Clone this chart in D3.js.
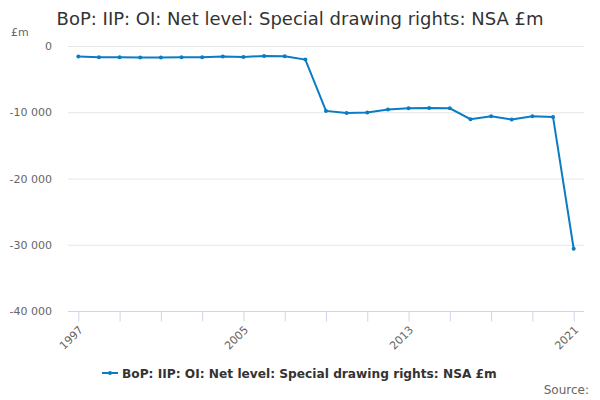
<!DOCTYPE html>
<html>
<head>
<meta charset="utf-8">
<script src="https://cdn.jsdelivr.net/npm/d3@7/dist/d3.min.js"></script>
<style>
 body { margin: 0; background: #fff; }
 text { font-family: "DejaVu Sans", sans-serif; }
</style>
</head>
<body>
<script>
var years = [1997, 1998, 1999, 2000, 2001, 2002, 2003, 2004, 2005, 2006, 2007, 2008,
             2009, 2010, 2011, 2012, 2013, 2014, 2015, 2016, 2017, 2018, 2019, 2020, 2021];
var values = [-1600, -1700, -1700, -1750, -1750, -1700, -1700, -1600, -1650, -1500, -1550, -2050,
              -9800, -10100, -10050, -9600, -9400, -9350, -9400, -11050, -10600, -11100, -10600, -10700, -30600];
var yTicks = [0, -10000, -20000, -30000, -40000];
var xLabels = [1997, 2005, 2013, 2021];
var seriesName = "BoP: IIP: OI: Net level: Special drawing rights: NSA £m";

var blue = "#0a7cc4";

var svg = d3.select("body").append("svg")
    .attr("width", 600)
    .attr("height", 400);

var x = d3.scalePoint()
    .domain(years)
    .range([68, 584])
    .padding(0.5);

var y = d3.scaleLinear()
    .domain([-40000, 0])
    .range([311, 46]);

// title
svg.append("text")
    .attr("x", 300)
    .attr("y", 25)
    .attr("text-anchor", "middle")
    .style("font-size", "18px")
    .style("fill", "#333")
    .text(seriesName);

svg.append("text")
    .attr("x", 11)
    .attr("y", 36)
    .style("font-size", "11px")
    .style("fill", "#666")
    .text("£m");

// gridlines + y labels
var fmt = function(v) { return d3.format(",")(v).replace(/,/g, " ").replace("−", "-"); };

svg.append("g").selectAll("line")
    .data(yTicks.filter(function(d) { return d > -40000; }))
    .enter().append("line")
    .attr("x1", 68).attr("x2", 584)
    .attr("y1", function(d) { return y(d) + 0.5; })
    .attr("y2", function(d) { return y(d) + 0.5; })
    .style("stroke", "#e6e6e6");

svg.append("g").selectAll("text")
    .data(yTicks)
    .enter().append("text")
    .attr("x", 52)
    .attr("y", function(d) { return y(d) + 4; })
    .attr("text-anchor", "end")
    .style("font-size", "11px")
    .style("fill", "#666")
    .text(fmt);

// x axis
var xAxis = d3.axisBottom(x)
    .tickValues(years.filter(function(d) { return (d - 1997) % 2 == 0; }))
    .tickSize(10)
    .tickFormat(function(d) { return xLabels.indexOf(d) >= 0 ? d : ""; });

var gx = svg.append("g")
    .attr("transform", "translate(0," + 311.5 + ")")
    .call(xAxis);

gx.select(".domain").attr("d", "M68,0H584").style("stroke", "#ccd6eb");
gx.selectAll(".tick line").style("stroke", "#ccd6eb");
gx.selectAll(".tick text")
    .attr("y", 0).attr("dy", 0)
    .attr("transform", "translate(5,19) rotate(-45)")
    .attr("text-anchor", "end")
    .style("font-family", "DejaVu Sans, sans-serif")
    .style("font-size", "11px")
    .style("fill", "#666");

// line
var line = d3.line()
    .x(function(d, i) { return x(years[i]); })
    .y(function(d) { return y(d); });

svg.append("path")
    .datum(values)
    .attr("d", line)
    .style("fill", "none")
    .style("stroke", blue)
    .style("stroke-width", 2);

svg.append("g").selectAll("circle")
    .data(values)
    .enter().append("circle")
    .attr("cx", function(d, i) { return x(years[i]); })
    .attr("cy", function(d) { return y(d); })
    .attr("r", 2)
    .style("fill", blue);

// legend
var lg = svg.append("g");
lg.append("line")
    .attr("x1", 102).attr("x2", 118)
    .attr("y1", 373).attr("y2", 373)
    .style("stroke", blue)
    .style("stroke-width", 2);
lg.append("circle")
    .attr("cx", 110).attr("cy", 373).attr("r", 2)
    .style("fill", blue);
lg.append("text")
    .attr("x", 122)
    .attr("y", 377.5)
    .style("font-size", "12.2px")
    .style("font-weight", "bold")
    .style("fill", "#333")
    .text(seriesName);

svg.append("text")
    .attr("x", 589)
    .attr("y", 394)
    .attr("text-anchor", "end")
    .style("font-size", "12px")
    .style("fill", "#666")
    .text("Source:");
</script>
</body>
</html>
